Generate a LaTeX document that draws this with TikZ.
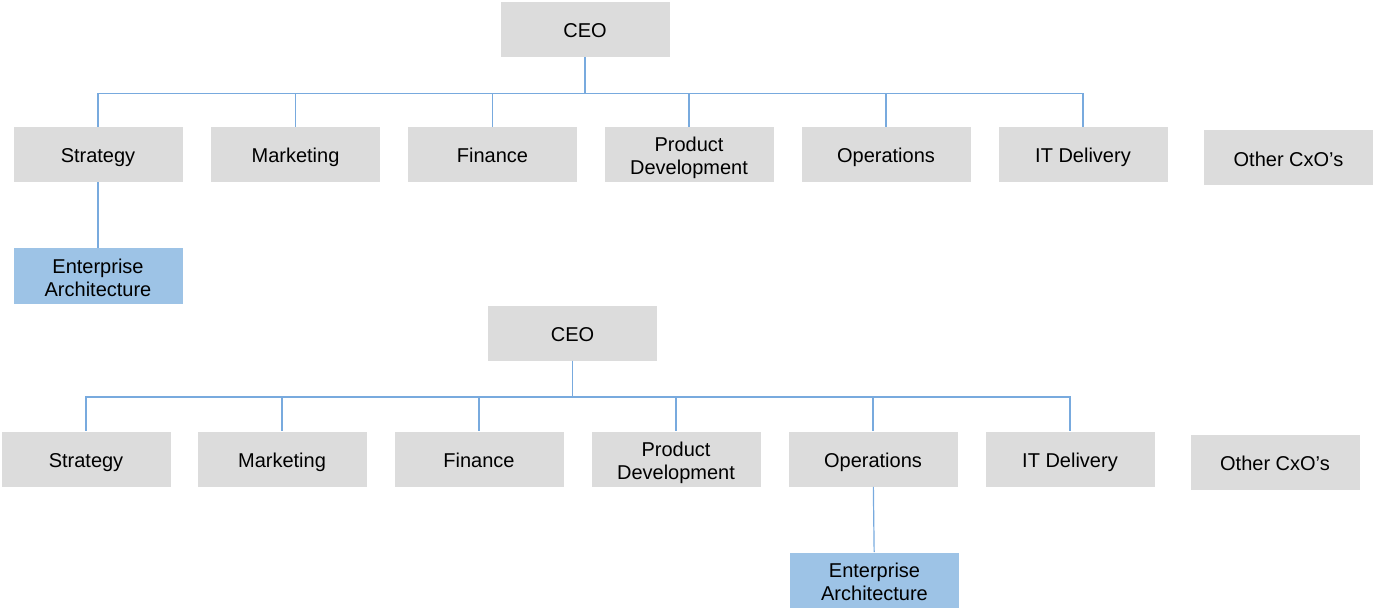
\documentclass[tikz,border=0pt]{standalone}
\usepackage{fontspec}
\setmainfont{Liberation Sans}
\usepackage{tikz}
\usetikzlibrary{positioning,calc}
\definecolor{BoxGray}{RGB}{220,220,220}
\definecolor{EABlue}{RGB}{157,195,230}
\definecolor{LinkBlue}{RGB}{120,170,222}

\begin{document}
\begin{tikzpicture}[x=0.5pt,y=-0.5pt,
  unit/.style={fill=BoxGray,minimum width=84.5pt,minimum height=27.5pt,
    inner sep=1pt,align=center,font=\fontsize{10}{11.5}\selectfont,
    text height=9pt,text depth=0.8pt},
  twoline/.style={text height=21.5pt,text depth=1.5pt},
  eabox/.style={unit,twoline,fill=EABlue},
  orgline/.style={LinkBlue,line width=0.6pt}]
  \useasboundingbox (0,0) rectangle (1375,609);
  % first chart: EA under Strategy
  \node[unit] (ceo)   at (585,29.5)  {CEO};
  \node[unit] (strat) at (98,154.5)  {Strategy};
  \node[unit] (mkt)   at (295.5,154.5) {Marketing};
  \node[unit] (fin)   at (492.5,154.5) {Finance};
  \node[unit,twoline] (prod) at (689,154.5) {Product\\Development};
  \node[unit] (ops)   at (886,154.5) {Operations};
  \node[unit] (itd)   at (1083,154.5) {IT Delivery};
  \node[unit] (cxo)   at (1288.5,158) {Other CxO’s};
  \node[eabox] (ea)   at (98,276)    {Enterprise\\Architecture};
  \foreach \c in {strat,mkt,fin,prod,ops,itd}
    \draw[orgline] (ceo.south) -- ++(0,36) -| (\c.north);
  \draw[orgline] (strat) -- (ea);
  % second chart: EA under Operations
  \node[unit] (bceo)   at (572.5,333) {CEO};
  \node[unit] (bstrat) at (86,459)    {Strategy};
  \node[unit] (bmkt)   at (282,459)   {Marketing};
  \node[unit] (bfin)   at (479,459)   {Finance};
  \node[unit,twoline] (bprod) at (676,459) {Product\\Development};
  \node[unit] (bops)   at (873,459)   {Operations};
  \node[unit] (bitd)   at (1070,459)  {IT Delivery};
  \node[unit] (bcxo)   at (1275,462)  {Other CxO’s};
  \node[eabox] (bea)   at (874.5,580) {Enterprise\\Architecture};
  \foreach \c in {bstrat,bmkt,bfin,bprod,bops,bitd}
    \draw[orgline] (bceo.south) -- ++(0,36) -| (\c.north);
  \draw[orgline] (bops) -- (bea);
\end{tikzpicture}
\end{document}
